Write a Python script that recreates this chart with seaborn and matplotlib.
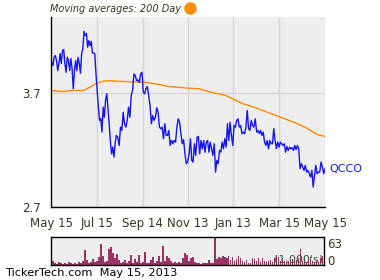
import numpy as np
import pandas as pd
import matplotlib
matplotlib.use("Agg")
import matplotlib.pyplot as plt
import matplotlib.dates as mdates
from matplotlib.lines import Line2D
import seaborn as sns

# ---------------- data ----------------
# price readings, four consecutive stretches (start date, end date, values)
seg_a_range = ("2012-05-16", "2012-08-10")
seg_a = [3.972, 3.943, 4.016, 4.031, 3.987, 3.899, 3.961, 4.048, 3.961, 4.075,
         4.083, 3.961, 3.884, 4.016, 3.987, 3.899, 4.004, 3.917, 3.739, 3.899,
         3.987, 3.899, 4.016, 3.961, 3.875, 4.048, 4.092, 4.244, 4.206, 4.224,
         4.104, 4.162, 4.118, 4.156, 4.054, 4.054, 4.046, 3.870, 3.724, 3.577,
         3.461, 3.478, 3.358, 3.577, 3.489, 3.636, 3.695, 3.577, 3.432, 3.285,
         3.168, 3.226, 3.139, 3.256, 3.329]
seg_b_range = ("2012-08-12", "2012-11-13")
seg_b = [3.314, 3.241, 3.402, 3.373, 3.533, 3.432, 3.402, 3.461, 3.577, 3.489,
         3.680, 3.724, 3.870, 3.855, 3.811, 3.818, 3.796, 3.870, 3.884, 3.709,
         3.695, 3.739, 3.759, 3.680, 3.592, 3.432, 3.504, 3.461, 3.489, 3.572,
         3.533, 3.402, 3.388, 3.402, 3.300, 3.432, 3.329, 3.329, 3.373, 3.241,
         3.285, 3.256, 3.285, 3.270, 3.402, 3.475, 3.446, 3.344, 3.256, 3.291,
         3.168, 3.081, 3.095]
seg_c_range = ("2012-11-15", "2013-02-11")
seg_c = [3.168, 3.300, 3.110, 3.095, 3.256, 3.154, 3.314, 3.320, 3.168, 3.285,
         3.212, 3.285, 3.182, 3.270, 3.285, 3.182, 3.270, 3.212, 3.154, 3.256,
         3.007, 3.110, 3.081, 3.197, 3.182, 3.270, 3.212, 3.300, 3.226, 3.432,
         3.285, 3.446, 3.329, 3.241, 3.417, 3.402, 3.461, 3.475, 3.402, 3.417,
         3.344, 3.358, 3.344, 3.402, 3.548, 3.388, 3.373, 3.461, 3.417, 3.402,
         3.475]
seg_d_range = ("2013-02-13", "2013-05-15")
seg_d = [3.358, 3.373, 3.344, 3.373, 3.329, 3.358, 3.270, 3.241, 3.285, 3.212,
         3.285, 3.256, 3.256, 3.388, 3.285, 3.212, 3.270, 3.226, 3.270, 3.256,
         3.241, 3.256, 3.182, 3.232, 3.197, 3.226, 3.212, 3.221, 3.197, 3.241,
         3.204, 3.241, 3.212, 3.037, 3.081, 3.051, 3.022, 3.066, 3.007, 3.022,
         2.993, 2.963, 3.022, 2.875, 2.978, 3.066, 2.993, 3.007, 3.007, 3.095,
         3.051, 2.993, 3.037]

ma_dates = ["2012-05-15", "2012-05-31", "2012-06-13", "2012-06-27", "2012-07-06",
            "2012-07-15", "2012-07-23", "2012-08-02", "2012-08-12", "2012-08-29",
            "2012-09-17", "2012-09-25", "2012-10-08", "2012-10-18", "2012-10-31",
            "2012-11-14", "2012-11-28", "2012-12-17", "2013-01-03", "2013-01-12",
            "2013-01-26", "2013-02-12", "2013-02-27", "2013-03-17", "2013-04-03",
            "2013-04-21", "2013-05-04", "2013-05-15"]
ma_values = [3.724, 3.715, 3.724, 3.724, 3.753, 3.788, 3.805, 3.811, 3.805, 3.800,
             3.796, 3.788, 3.774, 3.759, 3.753, 3.744, 3.739, 3.704, 3.680, 3.651,
             3.607, 3.572, 3.533, 3.489, 3.446, 3.393, 3.338, 3.320]

volume_range = ("2012-05-15", "2013-05-13")
volume = [5, 9, 4, 3, 8, 4, 3, 5, 3, 7, 4, 3, 4, 3, 7, 5, 9, 34, 11, 6,
          8, 13, 7, 9, 19, 47, 20, 8, 10, 35, 40, 28, 15, 24, 11, 6, 8, 11, 5, 9,
          22, 5, 13, 7, 23, 6, 8, 29, 6, 5, 11, 18, 6, 9, 20, 8, 42, 9, 20, 15,
          10, 6, 8, 5, 7, 4, 15, 28, 23, 10, 15, 18, 8, 5, 4, 3, 4, 5, 6, 11,
          4, 5, 63, 13, 18, 15, 20, 18, 15, 20, 11, 18, 10, 13, 20, 15, 9, 7, 11, 6,
          5, 15, 13, 9, 16, 8, 15, 10, 7, 9, 11, 8, 15, 22, 18, 10, 15, 9, 7, 10,
          8, 13, 9, 11, 15, 37, 10, 15, 8, 12, 18, 9, 7, 10, 8, 15, 21]

x_major = ["2012-05-15", "2012-07-15", "2012-09-14", "2012-11-13",
           "2013-01-13", "2013-03-15", "2013-05-15"]
x_labels = ["May 15", "Jul 15", "Sep 14", "Nov 13", "Jan 13", "Mar 15", "May 15"]
x_minor = ["2012-06-15", "2012-08-15", "2012-10-14", "2012-12-13",
           "2013-02-13", "2013-04-15"]
y_major = [2.7, 3.7]
y_minor = [3.2, 4.2]
ticker = "QCCO"
vol_max_label = "63"

# ---------------- build frames ----------------
parts = []
for (s, e), vals in [(seg_a_range, seg_a), (seg_b_range, seg_b),
                     (seg_c_range, seg_c), (seg_d_range, seg_d)]:
    parts.append(pd.DataFrame({"date": pd.date_range(s, e, periods=len(vals)),
                               "price": vals}))
price_df = pd.concat(parts, ignore_index=True)
ma_df = pd.DataFrame({"date": pd.to_datetime(ma_dates), "ma": ma_values})
vol_df = pd.DataFrame({"date": pd.date_range(*volume_range, periods=len(volume)),
                       "vol": volume})

# ---------------- style ----------------
sns.set_style("white")
plt.rcParams["font.family"] = ["DejaVu Sans"]
txt = "#3a3320"
bg = "#eeeeee"
gridc = "#d6d6d6"

fig = plt.figure(figsize=(3.8, 2.8), dpi=100)
ax = fig.add_axes([51/380, 73/280, 274/380, 190/280])
ax2 = fig.add_axes([51/380, 14.7/280, 273/380, 28.6/280])

for a in (ax, ax2):
    a.set_facecolor(bg)

sns.lineplot(data=ma_df, x="date", y="ma", ax=ax, color="#ff8c00", lw=1.0)
sns.lineplot(data=price_df, x="date", y="price", ax=ax, color="#1515ee", lw=1.0)

xlim = (pd.Timestamp("2012-05-15"), pd.Timestamp("2013-05-15"))
ax.set_xlim(*xlim)
ax.set_ylim(2.7, 4.37)
ax.set_xticks(pd.to_datetime(x_major))
ax.set_xticklabels(x_labels)
ax.set_xticks(pd.to_datetime(x_minor), minor=True)
ax.set_yticks(y_major)
ax.set_yticklabels([f"{v:.1f}" for v in y_major])
ax.set_yticks(y_minor, minor=True)
ax.set_xlabel("")
ax.set_ylabel("")
ax.grid(True, which="major", color=gridc, lw=1)
ax.set_axisbelow(True)
for s in ("top", "right"):
    ax.spines[s].set_visible(False)
for s in ("left", "bottom"):
    ax.spines[s].set_color("black")
    ax.spines[s].set_linewidth(1)
ax.tick_params(axis="both", which="both", direction="in", color="black")
ax.tick_params(axis="x", which="major", length=4, pad=7, labelsize=8.5, labelcolor=txt)
ax.tick_params(axis="x", which="minor", length=4)
ax.tick_params(axis="y", which="major", length=3, pad=7, labelsize=8.5, labelcolor=txt)
ax.tick_params(axis="y", which="minor", length=3)

last = price_df.iloc[-1]
ax.annotate(ticker, xy=(last["date"], last["price"]), xytext=(3, 0),
            textcoords="offset points", color="#1515ee", fontsize=8,
            va="center", ha="left", annotation_clip=False)

# volume panel
ax2.bar(vol_df["date"], vol_df["vol"], width=2.2, color="#993366", linewidth=0)
ax2.set_xlim(*xlim)
ax2.set_ylim(0, 63)
ax2.set_xticks([])
ax2.set_yticks([])
for s in ax2.spines.values():
    s.set_visible(True)
    s.set_color("black")
    s.set_linewidth(1)
ax2.text(1.012, 0.74, vol_max_label, transform=ax2.transAxes, fontsize=8.5,
         color=txt, va="center", ha="left")
ax2.text(1.012, 0.12, "0", transform=ax2.transAxes, fontsize=8.5,
         color=txt, va="center", ha="left")
ax2.text(0.995, 0.22, "(1,000's)", transform=ax2.transAxes, fontsize=8,
         color="#2f5f3a", va="center", ha="right")

# title and footer
fig.text(50/380, 1 - 9/280, "Moving averages: 200 Day", fontsize=7,
         style="italic", color=txt, va="center", ha="left")
fig.add_artist(Line2D([190/380], [1 - 8/280], marker="o", markersize=8,
                      color="#ff8c00", transform=fig.transFigure))
fig.text(5/380, 1 - 273/280, "TickerTech.com  May 15, 2013", fontsize=8.2,
         color="black", va="center", ha="left")

fig.savefig("out.png", dpi=100)
